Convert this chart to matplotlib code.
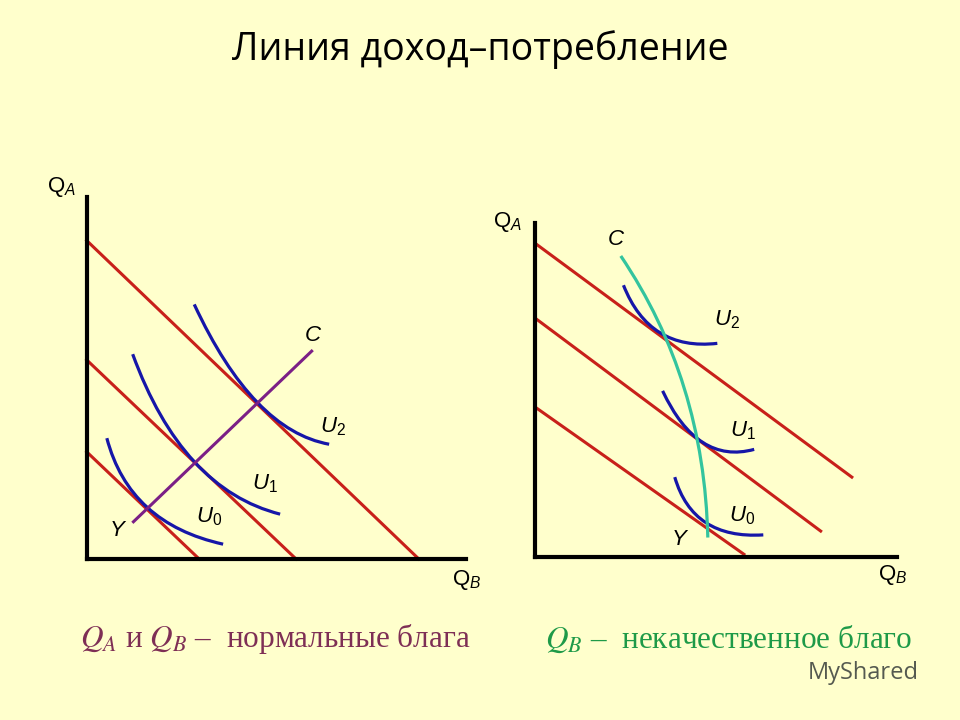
import matplotlib
matplotlib.use("Agg")
import matplotlib.pyplot as plt
from matplotlib.path import Path
from matplotlib.patches import PathPatch

# ---- данные (единицы графика, начало координат в углу осей) ----
# левый график: QA и QB нормальные блага
left_budget_qa = [2.82, 5.24, 8.38]      # пересечения бюджетных линий с осью QA
left_budget_qb = [2.96, 5.51, 8.74]      # пересечения с осью QB
left_icc = [(1.23, 0.98), (5.92, 5.47)]  # линия доход-потребление Y -> C
# кривые безразличия: начало, точка касания, конец
left_u = {
    "0": [(0.53, 3.18), (1.59, 1.36), (3.59, 0.39)],
    "1": [(1.21, 5.39), (2.83, 2.56), (5.09, 1.18)],
    "2": [(2.83, 6.70), (4.49, 4.12), (6.38, 3.02)],
}

# правый график: QB некачественное благо
right_budget_start = [(0, 3.95), (0, 6.29), (0, 8.26)]
right_budget_end = [(5.49, 0.08), (7.51, 0.69), (8.33, 2.11)]
right_icc = [(2.25, 7.93), (3.92, 4.45), (4.54, 0.52)]
right_u = {
    "0": [(3.67, 2.11), (4.49, 0.91), (6.00, 0.59)],
    "1": [(3.35, 4.38), (4.41, 3.02), (5.76, 2.84)],
    "2": [(2.32, 7.16), (3.28, 5.91), (4.79, 5.63)],
}

bg = "#FFFFCC"
red = "#C8201A"
blue = "#1616A8"
purple = "#7B1F86"
green = "#33C49E"

plt.rcParams["mathtext.fontset"] = "custom"
plt.rcParams["mathtext.rm"] = "Liberation Sans"
plt.rcParams["mathtext.it"] = "Liberation Sans:italic"
plt.rcParams["mathtext.bf"] = "Liberation Sans:bold"

W, H = 960, 720
fig = plt.figure(figsize=(9.6, 7.2), dpi=100, facecolor=bg)


def make_axes(x0, y0, x1, y1):
    # рамка осей в пикселях картинки (y сверху вниз)
    ax = fig.add_axes([x0 / W, (H - y1) / H, (x1 - x0) / W, (y1 - y0) / H])
    ax.set_facecolor("none")
    ax.set_xlim(0, (x1 - x0) / 38)
    ax.set_ylim(0, (y1 - y0) / 38)
    for s in ["top", "right"]:
        ax.spines[s].set_visible(False)
    for s in ["left", "bottom"]:
        ax.spines[s].set_linewidth(3)
        ax.spines[s].set_color("black")
        ax.spines[s].set_capstyle("projecting")
    ax.set_xticks([])
    ax.set_yticks([])
    return ax


def curve(ax, pts, color, lw=2.3):
    # квадратичная кривая Безье через начало, середину и конец
    p0, m, p2 = pts
    c = (2 * m[0] - (p0[0] + p2[0]) / 2, 2 * m[1] - (p0[1] + p2[1]) / 2)
    path = Path([p0, c, p2], [Path.MOVETO, Path.CURVE3, Path.CURVE3])
    ax.add_patch(PathPatch(path, fill=False, edgecolor=color, lw=lw,
                           clip_on=False, zorder=3))


def label(ax, x, y, s, size=16):
    ax.text(x, y, s, fontsize=size, ha="center", va="center",
            family="Liberation Sans", clip_on=False)


# ---- левый график ----
ax1 = make_axes(86.7, 196.7, 466, 559)
for qa, qb in zip(left_budget_qa, left_budget_qb):
    ax1.plot([0, qb], [qa, 0], color=red, lw=2.2, clip_on=False, zorder=2)
for k in left_u:
    curve(ax1, left_u[k], blue)
ax1.plot([p[0] for p in left_icc], [p[1] for p in left_icc],
         color=purple, lw=2.2, clip_on=False, zorder=4)

label(ax1, -0.65, 9.79, r"Q$_{A}$")
label(ax1, 10.0, -0.55, r"Q$_{B}$")
label(ax1, 5.96, 5.87, r"$C$")
label(ax1, 6.48, 3.47, r"$U_{2}$")
label(ax1, 4.69, 1.97, r"$U_{1}$")
label(ax1, 3.22, 1.10, r"$U_{0}$")
label(ax1, 0.82, 0.76, r"$Y$")

# ---- правый график ----
ax2 = make_axes(535.3, 222.7, 896.7, 557.3)
for a, b in zip(right_budget_start, right_budget_end):
    ax2.plot([a[0], b[0]], [a[1], b[1]], color=red, lw=2.2,
             clip_on=False, zorder=2)
for k in right_u:
    curve(ax2, right_u[k], blue)
curve(ax2, right_icc, green, lw=2.3)

label(ax2, -0.72, 8.82, r"Q$_{A}$")
label(ax2, 9.41, -0.47, r"Q$_{B}$")
label(ax2, 2.12, 8.35, r"$C$")
label(ax2, 5.04, 6.24, r"$U_{2}$")
label(ax2, 5.47, 3.32, r"$U_{1}$")
label(ax2, 5.44, 1.09, r"$U_{0}$")
label(ax2, 3.81, 0.48, r"$Y$")

# ---- подписи ----
fig.text(480 / W, 1 - 50 / H, "Линия доход–потребление", fontsize=27,
         family="Open Sans", ha="center", va="center", color="black")

fig.text(80 / W, 1 - 639 / H, "$Q_A$ и $Q_B$ –  нормальные блага",
         fontsize=22.5, family="Liberation Serif", math_fontfamily="stix",
         ha="left", va="center", color="#7E2F55")
fig.text(545 / W, 1 - 639 / H, "$Q_B$ –  некачественное благо",
         fontsize=22.5, family="Liberation Serif", math_fontfamily="stix",
         ha="left", va="center", color="#1E9A48")

fig.text(808 / W, 1 - 673 / H, "MyShared", fontsize=17, family="Open Sans",
         ha="left", va="center", color="#555A50")

fig.savefig("out.png", dpi=100, facecolor=bg)
